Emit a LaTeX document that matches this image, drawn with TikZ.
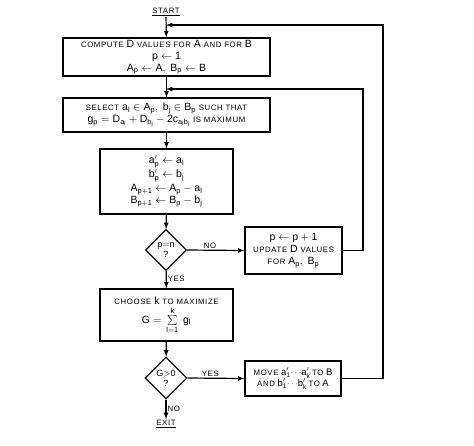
\documentclass[tikz,border=0pt]{standalone}
\usepackage{fontspec}
\setmainfont{Liberation Sans}
\setsansfont{Liberation Sans}
\newfontfamily\smfont[LetterSpace=8]{Liberation Sans}
\usetikzlibrary{shapes.geometric}

\newcommand{\sm}[1]{{\smfont\fontsize{7.8}{9}\selectfont #1}}

\tikzset{
  box/.style={draw, line width=1.2pt, align=center, inner sep=1pt, font=\fontsize{10.5}{12}\selectfont},
  test/.style={draw, diamond, line width=1.2pt, align=center, inner sep=0pt, minimum width=41pt, minimum height=41pt, font=\fontsize{9}{10}\selectfont},
  flow/.style={line width=1.2pt},
  lbl/.style={font=\smfont\fontsize{7.8}{9}\selectfont, inner sep=1pt}
}

\begin{document}
\begin{tikzpicture}[x=1pt,y=-1pt]
\useasboundingbox (0,0) rectangle (474,445);

\node[lbl] (start) at (166,12) {\underline{START}};

\node[box, minimum width=207pt, minimum height=38pt] (init) at (166.5,57)
  {\sm{COMPUTE} D \sm{VALUES FOR} A \sm{AND FOR} B\\
   $\mathsf{p \leftarrow 1}$\\
   $\mathsf{A_p \leftarrow A,\ B_p \leftarrow B}$};

\node[box, minimum width=207pt, minimum height=34pt] (select) at (166.5,115)
  {\sm{SELECT} $\mathsf{a_l \in A_p,\ b_j \in B_p}$ \sm{SUCH THAT}\\
   $\mathsf{g_p = D_{a_l} + D_{b_j} - 2c_{a_l b_j}}$ \sm{IS MAXIMUM}};

\node[box, minimum width=133pt, minimum height=65pt] (swap) at (166.5,181.5)
  {$\mathsf{a'_p \leftarrow a_l}$\\[1pt]
   $\mathsf{b'_p \leftarrow b_j}$\\[2pt]
   $\mathsf{A_{p+1} \leftarrow A_p - a_l}$\\
   $\mathsf{B_{p+1} \leftarrow B_p - b_j}$};

\node[test] (pn) at (166,250) {$\mathsf{p{=}n}$\\?};

\node[box, minimum width=97pt, minimum height=47pt] (update) at (293.5,250.5)
  {$\mathsf{p \leftarrow p+1}$\\
   \sm{UPDATE} D \sm{VALUES}\\
   \sm{FOR} $\mathsf{A_p,\ B_p}$};

\node[box, minimum width=133pt, minimum height=52pt] (choose) at (166.5,315)
  {\sm{CHOOSE} k \sm{TO MAXIMIZE}\\[2pt]
   $\mathsf{G =}\ \sum\limits_{\mathsf{l=1}}^{\mathsf{k}}\ \mathsf{g_l}$};

\node[test, minimum width=42pt, minimum height=42pt] (gain) at (166,378) {$\mathsf{G{>}0}$\\?};

\node[box, minimum width=96pt, minimum height=35pt, font=\fontsize{9.5}{11}\selectfont] (move) at (293,378.5)
  {\sm{MOVE} $\mathsf{a'_1{\cdots}a'_k}$\,\sm{TO} B\\
   \sm{AND} $\mathsf{b'_1{\cdots}b'_k}$\,\sm{TO} A};

\node[lbl] (exit) at (166,424) {\underline{EXIT}};

\coordinate (outer) at (166,25);
\coordinate (inner) at (166,89);

% main line
\draw[flow, -latex] (start) -- (init);
\draw[flow, -latex] (init) -- (select);
\draw[flow, -latex] (select) -- (swap);
\draw[flow, -latex] (swap) -- (pn);
\draw[flow, -latex] (pn) -- node[lbl, right, pos=0.45] {YES} (choose);
\draw[flow, -latex] (choose) -- (gain);
\draw[flow, -latex] (gain) -- node[lbl, right, pos=0.45] {NO} (exit);

% side branches
\draw[flow, -latex] (pn.east) -- node[lbl, above, pos=0.4] {NO} (update.west);
\draw[flow, -latex] (gain.east) -- node[lbl, above, pos=0.4] {YES} (move.west);

% loops back
\draw[flow, -latex] (update.east) -- (363,250.5) |- (inner);
\draw[flow, -latex] (move.east) -- (383,378.5) |- (outer);
\end{tikzpicture}
\end{document}
